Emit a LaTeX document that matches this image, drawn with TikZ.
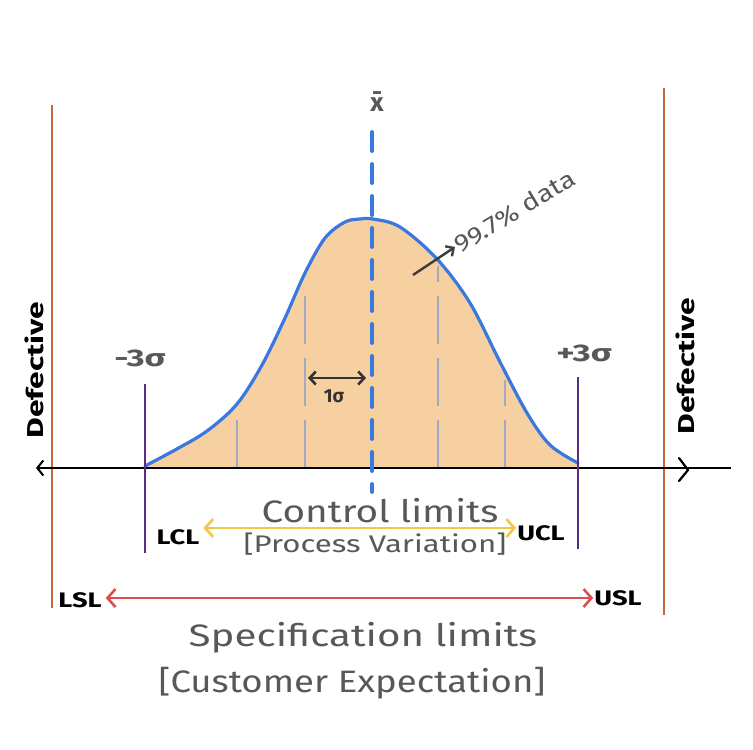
\documentclass[tikz,border=0pt]{standalone}
\usepackage{fontspec}
\setmainfont{Fira Sans}
\usetikzlibrary{arrows.meta}
\definecolor{speclim}{RGB}{198,104,58}
\definecolor{sigmalim}{RGB}{92,44,130}
\definecolor{curveblue}{RGB}{58,120,222}
\definecolor{bellfill}{RGB}{246,208,160}
\definecolor{ctrlyellow}{RGB}{240,200,70}
\definecolor{specred}{RGB}{222,78,78}
\definecolor{penGray}{RGB}{88,88,88}
\definecolor{gridGray}{RGB}{160,170,195}
\tikzset{every picture/.style={line width=0.75pt}}
\tikzset{
  penText/.style={text=penGray,inner sep=0.75pt},
  inkText/.style={text=black,inner sep=0.75pt,font=\bfseries\fontsize{21}{21}\selectfont},
  sigmaLine/.style={draw=gridGray,line width=1.4pt,dash pattern=on 48pt off 14pt},
  limArrow/.style={line width=2.6pt,{Straight Barb[length=8pt,width=18pt]}-{Straight Barb[length=8pt,width=18pt]}}
}
\newcommand{\wide}[2][1.3]{\scalebox{#1}[1]{#2}}
\def\bellpts{(145,466) (175,450) (207,431) (237,404) (262,365) (285,318) (305,273) (325,238) (345,222) (360,219) (373,219) (400,227) (437,259) (470,303) (500,362) (527,413) (550,445) (578,463)}

\begin{document}
\begin{tikzpicture}[x=1pt,y=1pt,yscale=-1,xscale=1]
\useasboundingbox[fill=white] (0,0) rectangle (753,750);

%Shape: Bell fill
\fill[bellfill] plot[smooth,tension=0.55] coordinates {\bellpts} -- (578,468) -- (145,468) -- cycle;
%Sigma divisions
\draw[sigmaLine] (237,468) -- (237,406);
\draw[sigmaLine] (305,468) -- (305,284);
\draw[sigmaLine] (438,468) -- (438,266);
\draw[sigmaLine] (505,468) -- (505,380);
%Curve Lines
\draw[curveblue,line width=3.2pt,line cap=round] plot[smooth,tension=0.55] coordinates {\bellpts};

%Straight Lines: spec limits
\coordinate (lslTop) at (52,105);
\coordinate (lslBot) at (52,608);
\coordinate (uslTop) at (664,88);
\coordinate (uslBot) at (664,615);
\draw[speclim,line width=2.2pt] (lslTop) -- (lslBot);
\draw[speclim,line width=2.2pt] (uslTop) -- (uslBot);

%Straight Lines: axis
\coordinate (axisL) at (36,468);
\coordinate (axisR) at (731,468);
\draw[line width=2.6pt,{Straight Barb[length=6pt,width=15pt,line width=2pt]}-] (axisL) -- (axisR);
\coordinate (chevA) at (679,458);
\coordinate (chevB) at (688,470);
\coordinate (chevC) at (679,481);
\draw[line width=2.2pt,line cap=round,line join=round] (chevA) -- (chevB) -- (chevC);

%Straight Lines: 3 sigma
\coordinate (m3Top) at (145,384);
\coordinate (m3Bot) at (145,553);
\coordinate (p3Top) at (578,377);
\coordinate (p3Bot) at (578,549);
\draw[sigmalim,line width=2.2pt] (m3Top) -- (m3Bot);
\draw[sigmalim,line width=2.2pt] (p3Top) -- (p3Bot);

%Straight Lines: mean
\coordinate (meanTop) at (372,132);
\coordinate (meanBot) at (372,492);
\draw[curveblue,line width=3.8pt,dash pattern=on 19pt off 13pt,line cap=round] (meanTop) -- (meanBot);

% Text Node
\node[penText,font=\bfseries\fontsize{26}{26}\selectfont] (xbar) at (377,102) {\=x};
% Text Node
\node[penText,font=\bfseries\fontsize{24}{24}\selectfont] (minus3) at (140,358) {\wide[1.45]{-3σ}};
% Text Node
\node[penText,font=\bfseries\fontsize{24}{24}\selectfont] (plus3) at (584,353) {\wide[1.45]{+3σ}};
% Text Node
\node[inkText,rotate=90,font=\bfseries\fontsize{23}{23}\selectfont] (defL) at (34,370) {\wide[1.38]{Defective}};
% Text Node
\node[inkText,rotate=90,font=\bfseries\fontsize{23}{23}\selectfont] (defR) at (685,366) {\wide[1.38]{Defective}};

%1 sigma arrow
\coordinate (oneL) at (308,378);
\coordinate (oneR) at (366,378);
\draw[black!80,line width=2.6pt,{Straight Barb[length=6pt,width=13pt]}-{Straight Barb[length=6pt,width=13pt]}] (oneL) -- (oneR);
% Text Node
\node[text=black!80,inner sep=0.75pt,font=\bfseries\fontsize{19}{19}\selectfont] (oneSig) at (334,396) {1σ};

%Data label
\node[penText,rotate=31,anchor=west,font=\fontsize{24}{24}\selectfont] (dataLbl) at (455,247) {\wide[1.18]{99.7\% data}};
\coordinate (dataTail) at (413,275);
\draw[penGray!70!black,line width=2.4pt,-{Straight Barb[length=6pt,width=12pt]}] (dataTail) -- (dataLbl.west);

%Control limits
\node[inkText] (lcl) at (178,537) {\wide{LCL}};
\node[inkText] (ucl) at (541,533) {\wide{UCL}};
\draw[ctrlyellow,limArrow] (lcl.east) ++(3,-9) coordinate (ctlL) -- (ctlL -| ucl.west) coordinate (ctlR);
% Text Node
\node[penText,font=\fontsize{31}{31}\selectfont] (ctrlTxt) at (380,511) {\wide[1.25]{Control limits}};
% Text Node
\node[penText,font=\fontsize{24}{24}\selectfont] (procTxt) at (375,544) {\wide[1.3]{[Process Variation]}};

%Specification limits
\node[inkText] (lsl) at (80,600) {\wide{LSL}};
\node[inkText] (usl) at (618,598) {\wide{USL}};
\draw[specred,limArrow] (lsl.east) ++(3,-2) coordinate (spL) -- (spL -| usl.west) coordinate (spR);
% Text Node
\node[penText,font=\fontsize{31}{31}\selectfont] (specTxt) at (363,638) {\wide[1.3]{Specification limits}};
% Text Node
\node[penText,font=\fontsize{31}{31}\selectfont] (custTxt) at (352,683) {\wide[1.18]{[Customer Expectation]}};

\end{tikzpicture}
\end{document}
